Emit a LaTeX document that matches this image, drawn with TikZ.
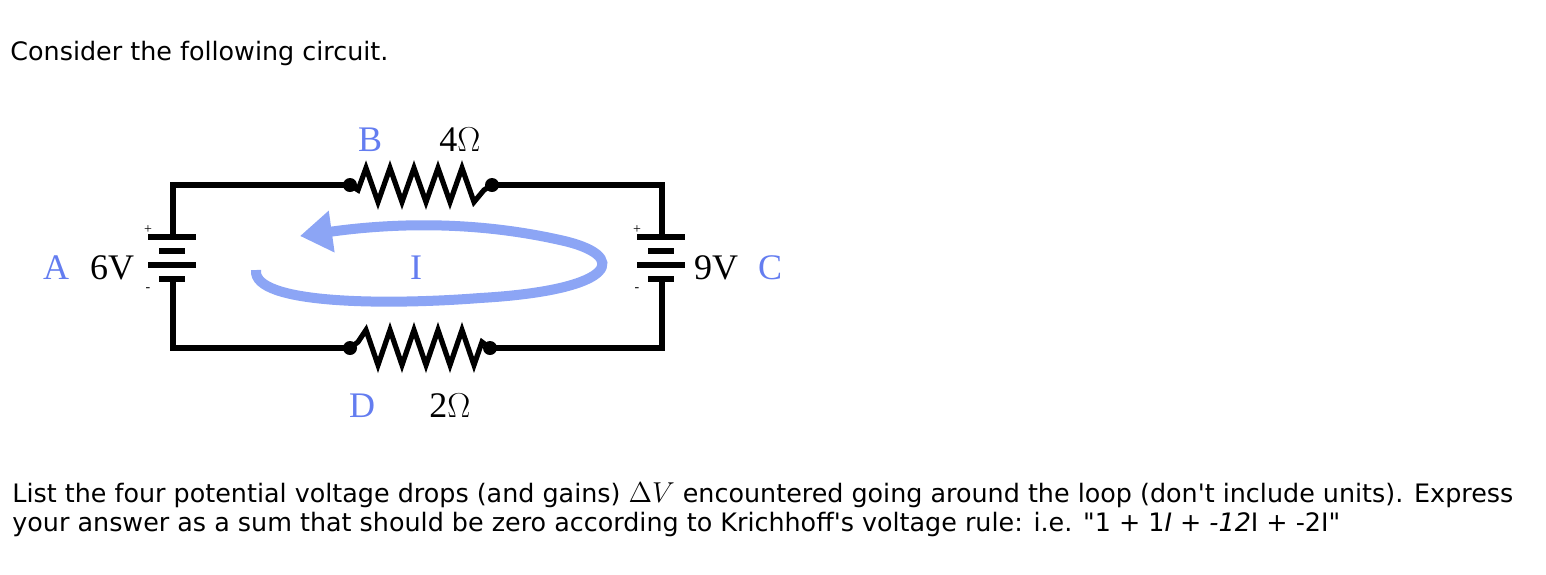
\documentclass[tikz,border=0pt]{standalone}
\usepackage{fontspec}
\setmainfont{Liberation Serif}
\newfontfamily\uisans{DejaVu Sans}
\usetikzlibrary{arrows.meta}
\definecolor{lblue}{RGB}{100,125,240}
\definecolor{cblue}{RGB}{140,165,245}
\begin{document}
\begin{tikzpicture}[x=0.5pt,y=-0.5pt,
  wire/.style={line width=2.6pt,line join=miter},
  plate/.style={line width=2.6pt},
  lbl/.style={font=\fontsize{18}{20}\selectfont},
  blbl/.style={lbl,text=lblue},
  body/.style={font=\uisans\fontsize{12.7}{15}\selectfont,anchor=base west,inner sep=0}]
\useasboundingbox (0,0) rectangle (1546,574);
\node[body] (t1) at (10,60) {Consider the following circuit.};
\node[body] (t2) at (12,502) {List the four potential voltage drops (and gains) {\fontsize{14.5}{15}\selectfont$\Delta V$} encountered going around the loop (don't include units). Express};
\node[body] (t3) at (12,531) {your answer as a sum that should be zero according to Krichhoff's voltage rule: i.e. "1 + 1\textit{I} + \textit{-12}I + -2I"};
% coordinates
\coordinate (tl) at (173,185); \coordinate (tr) at (662,185);
\coordinate (bl) at (173,348); \coordinate (br) at (662,348);
\coordinate (r1a) at (350,185); \coordinate (r1b) at (492,185);
\coordinate (r2a) at (350,348); \coordinate (r2b) at (490,348);
% wires
\draw[wire] (r1a) -- (tl) -- (173,237);
\draw[wire] (r1b) -- (tr) -- (662,237);
\draw[wire] (r2a) -- (bl) -- (173,278);
\draw[wire] (r2b) -- (br) -- (662,278);
% resistors
\draw[wire] (r1a) -- (358,190) -- (366,168) -- (378,202) -- (390,168) -- (402,202) -- (414,168) -- (426,202) -- (438,168) -- (450,202) -- (462,168) -- (474,202) -- (484,190) -- (r1b);
\draw[wire] (r2a) -- (358,342) -- (366,330) -- (378,365) -- (390,330) -- (402,365) -- (414,330) -- (426,365) -- (438,330) -- (450,365) -- (462,330) -- (474,365) -- (482,342) -- (r2b);
\foreach \p in {r1a,r1b,r2a,r2b} \fill (\p) circle (7);
% batteries
\foreach \x in {173,662}{
  \draw[plate] (\x-25,237) -- (\x+23,237);
  \draw[plate] (\x-14,251) -- (\x+12,251);
  \draw[plate] (\x-25,265) -- (\x+23,265);
  \draw[plate] (\x-14,279) -- (\x+12,279);
  \node[font=\fontsize{7}{8}\selectfont] at (\x-25,230) {+};
  \node[font=\fontsize{7}{8}\selectfont] at (\x-25,290) {-};
}
% labels
\node[blbl] (A) at (56,268) {A};
\node[lbl] (v6) at (112,268) {6V};
\node[lbl] (v9) at (716,268) {9V};
\node[blbl] (C) at (770,268) {C};
\node[blbl] (B) at (370,140) {B};
\node[lbl] (r4) at (460,140) {4$\Omega$};
\node[blbl] (D) at (362,406) {D};
\node[lbl] (r2) at (450,406) {2$\Omega$};
\node[blbl] (I) at (416,268) {I};
% current loop
\coordinate (ls) at (256,270);
\coordinate (le) at (300,236);
\draw[cblue,line width=5pt,-{Triangle[width=20pt,length=16pt]}] (ls) .. controls (252,305) and (390,305) .. (480,298) .. controls (620,290) and (630,255) .. (560,240) .. controls (480,222) and (400,222) .. (le);
\end{tikzpicture}
\end{document}
